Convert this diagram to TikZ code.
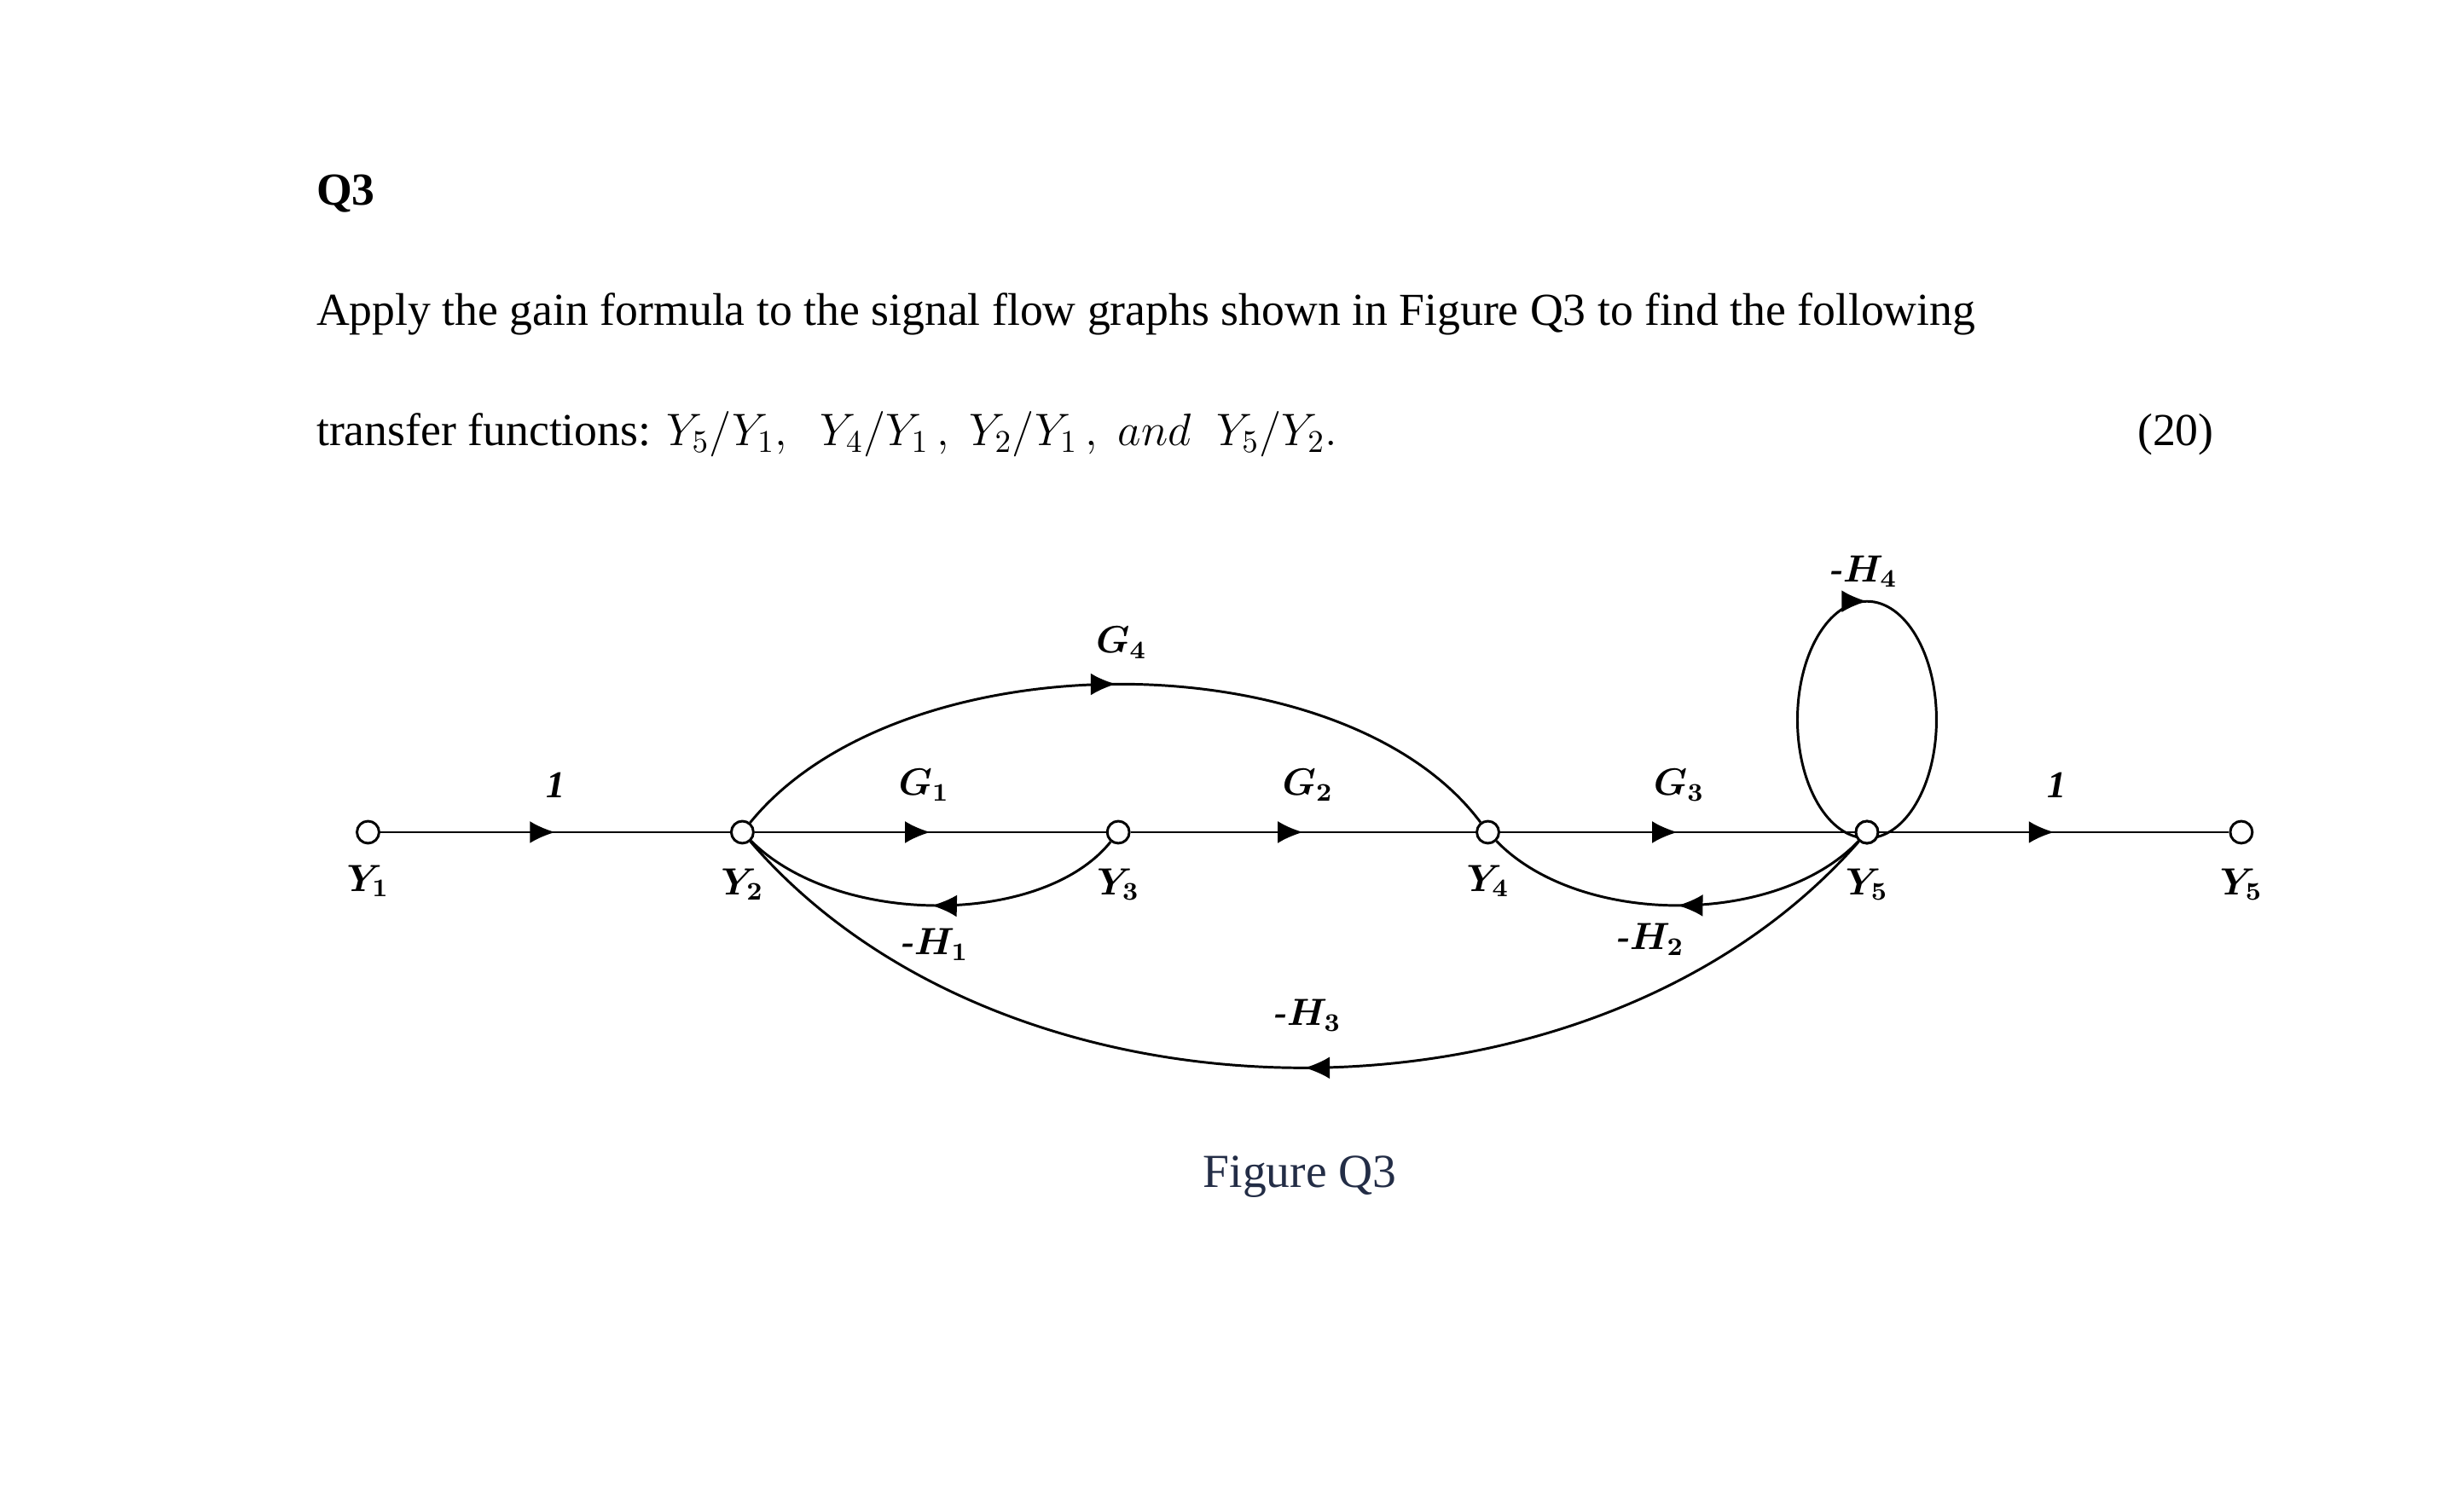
\documentclass[tikz,border=0pt]{standalone}
\usepackage{amsmath,amssymb,bm}
\usepackage{fontspec}
\setmainfont{Liberation Serif}
\usetikzlibrary{arrows.meta,decorations.markings}
\definecolor{figc}{RGB}{35,45,70}
\tikzset{
  sfnode/.style={circle,draw,thick,fill=white,inner sep=0pt,minimum size=7pt},
  midarrow/.style={thick,postaction={decorate},decoration={markings,mark=at position 0.5 with {\arrow{Latex[length=8pt,width=7pt]}}}},
  lab/.style={font=\fontsize{12}{14}\selectfont\bfseries\itshape},
  txt/.style={font=\fontsize{14.5}{17}\selectfont,anchor=base west,inner sep=0pt}
}
\begin{document}
\begin{tikzpicture}[x=0.5pt,y=-0.5pt]
\useasboundingbox (0,0) rectangle (1560,949);
\node[txt,font=\fontsize{14.5}{17}\selectfont\bfseries] (q) at (200,130) {Q3};
\node[txt] (l1) at (200,206) {Apply the gain formula to the signal flow graphs shown in Figure Q3 to find the following};
\node[txt] (l2) at (200,282) {transfer functions: $Y_5/Y_1,\;\; Y_4/Y_1\,,\; Y_2/Y_1\,,\; and\;\; Y_5/Y_2.$};
\node[txt,anchor=base east] (pts) at (1402,282) {(20)};
\node (Y1) at (233,527) [sfnode] {};
\node (Y2) at (470,527) [sfnode] {};
\node (Y3) at (708,527) [sfnode] {};
\node (Y4) at (942,527) [sfnode] {};
\node (Y5) at (1182,527) [sfnode] {};
\node (Y6) at (1419,527) [sfnode] {};
\draw[midarrow] (Y1) -- (Y2);
\draw[midarrow] (Y2) -- (Y3);
\draw[midarrow] (Y3) -- (Y4);
\draw[midarrow] (Y4) -- (Y5);
\draw[midarrow] (Y5) -- (Y6);
\draw[midarrow] (Y2) .. controls (570,404) and (850,404) .. (Y4);
\draw[midarrow] (Y3) .. controls (660,587) and (530,587) .. (Y2);
\draw[midarrow] (Y5) .. controls (1125,587) and (1000,587) .. (Y4);
\draw[midarrow] (Y5) .. controls (1010,724) and (640,724) .. (Y2);
\draw[midarrow] (Y5.south) ++(0,-4) arc[start angle=-90,end angle=-450,x radius=22pt,y radius=37.5pt];
\node[sfnode] at (Y5) {};
\node[lab] (a1) at (352,497) {1};
\node[lab] (a2) at (585,497) {$\bm{G_1}$};
\node[lab] (a3) at (828,497) {$\bm{G_2}$};
\node[lab] (a4) at (1063,497) {$\bm{G_3}$};
\node[lab] (a5) at (1302,497) {1};
\node[lab] (a6) at (710,407) {$\bm{G_4}$};
\node[lab] (b1) at (592,598) {-$\bm{H_1}$};
\node[lab] (b2) at (1045,595) {-$\bm{H_2}$};
\node[lab] (b3) at (828,643) {-$\bm{H_3}$};
\node[lab] (b4) at (1180,362) {-$\bm{H_4}$};
\node[lab] (n1) at (233,558) {$\bm{Y_1}$};
\node[lab] (n2) at (470,560) {$\bm{Y_2}$};
\node[lab] (n3) at (708,560) {$\bm{Y_3}$};
\node[lab] (n4) at (942,558) {$\bm{Y_4}$};
\node[lab] (n5) at (1182,560) {$\bm{Y_5}$};
\node[lab] (n6) at (1419,560) {$\bm{Y_5}$};
\node[font=\fontsize{15}{17}\selectfont,text=figc] (fig) at (823,745) {Figure Q3};
\end{tikzpicture}
\end{document}
